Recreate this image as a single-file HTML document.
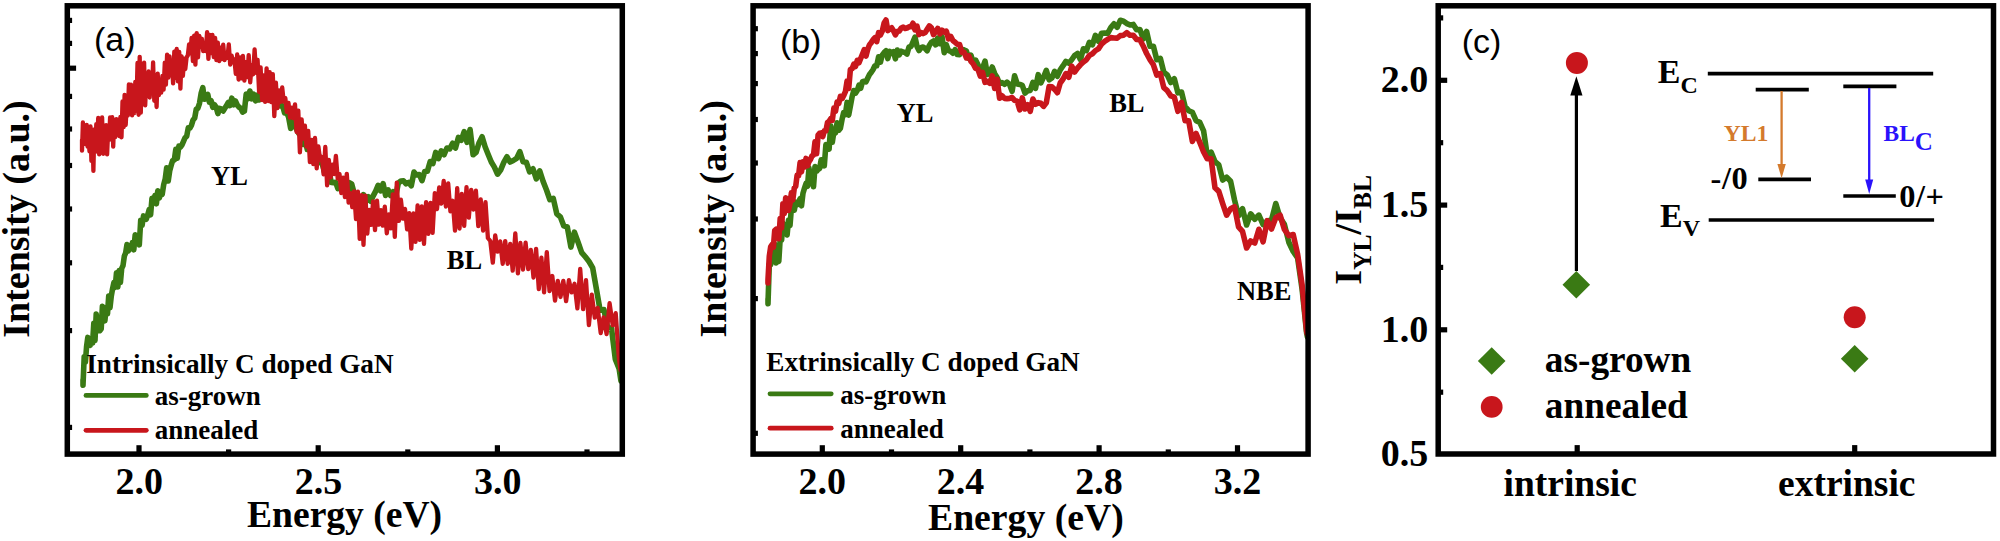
<!DOCTYPE html>
<html><head><meta charset="utf-8"><title>PL spectra</title>
<style>
html,body{margin:0;padding:0;background:#fff;}
body{width:2000px;height:541px;overflow:hidden;}
svg{display:block;}
text{font-family:"Liberation Serif","Times New Roman",serif;font-weight:bold;fill:#000;}
.sans{font-family:"Liberation Sans",Arial,sans-serif;font-weight:normal;}
.ax{font-size:38px;}
.tk{font-size:38px;text-anchor:middle;}
.lb{font-size:26.5px;}
.lg{font-size:27px;}
.fr{fill:none;stroke:#000;stroke-width:5.5;}
.t{stroke:#000;stroke-width:5.2;fill:none;}
.cv{fill:none;stroke-linejoin:round;stroke-linecap:round;}
</style></head><body>
<svg width="2000" height="541" viewBox="0 0 2000 541">
<rect width="2000" height="541" fill="#fff"/>
<defs>
<clipPath id="ca"><rect x="67.2" y="5.7" width="555.2" height="448.4"/></clipPath>
<clipPath id="cb"><rect x="753" y="5.7" width="555.2" height="448.4"/></clipPath>
</defs>

<g id="panel-a">
<g clip-path="url(#ca)">
<path class="cv" stroke="#3a7a14" stroke-width="5.6" d="M83.0 380.0 L83.0 385.2 L84.2 356.7 L85.4 362.1 L86.6 346.3 L87.8 337.4 L88.9 340.7 L90.2 345.3 L91.4 340.4 L92.6 343.0 L93.8 323.3 L95.0 340.4 L96.2 314.1 L97.5 327.1 L98.7 326.3 L99.9 330.7 L101.2 328.9 L102.4 306.3 L103.7 314.1 L104.9 320.8 L106.2 307.2 L107.5 313.8 L108.7 296.1 L110.0 307.8 L111.3 296.0 L112.6 288.5 L113.9 282.7 L115.2 287.3 L116.5 272.7 L117.8 287.0 L119.1 270.6 L120.4 282.4 L121.7 268.4 L123.0 265.6 L124.3 256.3 L125.7 252.7 L127.0 244.5 L128.4 250.9 L129.7 248.0 L131.1 248.1 L132.4 242.7 L133.8 249.8 L135.2 234.7 L136.5 241.4 L137.9 239.2 L139.3 244.9 L140.7 220.3 L142.1 225.3 L143.5 215.9 L144.9 217.1 L146.3 219.2 L147.7 214.9 L149.2 209.6 L150.6 214.8 L152.0 198.2 L153.5 200.9 L154.9 195.7 L156.4 203.8 L157.8 190.8 L159.3 198.1 L160.8 192.2 L162.2 194.3 L163.7 184.6 L165.2 179.0 L166.7 167.7 L168.2 181.0 L169.7 170.9 L171.2 165.2 L172.7 160.4 L174.3 160.1 L175.8 149.3 L177.3 158.2 L178.9 146.0 L180.4 147.1 L182.0 144.8 L183.5 141.3 L185.1 137.7 L186.7 136.2 L188.3 127.8 L189.9 128.2 L191.4 125.5 L193.1 119.9 L194.7 117.9 L196.3 109.1 L197.9 108.2 L199.5 103.3 L201.2 93.0 L202.8 87.7 L204.4 99.3 L206.1 96.2 L207.8 94.5 L209.4 102.2 L211.1 100.8 L212.8 107.3 L214.5 104.8 L216.2 107.4 L217.9 113.6 L219.6 108.4 L221.3 108.9 L223.1 111.0 L224.8 108.2 L226.5 105.6 L228.3 102.4 L230.0 105.6 L231.8 98.1 L233.6 104.8 L235.4 101.0 L237.2 105.0 L239.0 107.1 L240.8 108.3 L242.6 112.1 L244.4 111.1 L246.2 94.0 L248.1 98.7 L249.9 91.0 L251.8 98.9 L253.6 94.2 L255.5 100.8 L257.4 95.1 L259.3 99.9 L261.2 92.3 L263.1 88.5 L265.0 88.9 L266.9 91.1 L268.8 89.6 L270.8 93.1 L272.7 99.8 L274.7 98.8 L276.7 100.9 L278.6 100.3 L280.6 106.0 L282.6 105.7 L284.6 112.9 L286.6 112.3 L288.6 117.3 L290.7 128.5 L292.7 116.4 L294.8 125.6 L296.8 129.8 L298.9 133.6 L301.0 129.4 L303.1 144.5 L305.2 140.6 L307.3 149.5 L309.4 145.7 L311.5 147.6 L313.7 149.7 L315.8 162.1 L318.0 152.9 L320.2 162.3 L322.3 164.1 L324.5 172.3 L326.7 171.4 L329.0 170.6 L331.2 182.5 L333.4 182.6 L335.7 182.3 L337.9 188.7 L340.2 185.8 L342.5 187.9 L344.8 185.2 L347.1 195.4 L349.4 182.7 L351.7 183.9 L354.1 192.9 L356.4 198.9 L358.8 197.1 L361.2 205.4 L363.5 194.7 L365.9 201.7 L368.4 196.7 L370.8 201.2 L373.2 195.9 L375.7 191.1 L378.1 185.4 L380.6 190.9 L383.1 183.6 L385.6 195.4 L388.1 189.9 L390.6 195.5 L393.2 191.6 L395.7 196.5 L398.3 183.2 L400.9 181.0 L403.5 180.9 L406.1 183.8 L408.7 182.4 L411.3 185.7 L414.0 172.1 L416.6 175.0 L419.3 174.5 L422.0 180.7 L424.7 171.5 L427.4 171.3 L430.2 161.5 L432.9 163.5 L435.7 152.4 L438.5 158.6 L441.3 150.8 L444.1 154.7 L446.9 148.0 L449.7 148.9 L452.6 143.3 L455.5 148.1 L458.4 137.4 L461.3 140.2 L464.2 131.7 L467.1 142.4 L470.1 129.5 L473.1 154.8 L476.1 152.3 L479.1 142.7 L482.1 136.7 L485.1 146.8 L488.2 154.5 L491.3 162.0 L494.4 167.1 L497.5 174.2 L500.6 170.1 L503.8 162.4 L506.9 156.8 L510.1 162.1 L513.3 160.5 L516.6 158.4 L519.8 151.6 L523.1 161.8 L526.3 162.2 L529.6 171.8 L533.0 168.8 L536.3 178.8 L539.7 170.9 L543.1 181.4 L546.5 190.0 L549.9 199.7 L553.3 198.5 L556.8 213.8 L560.3 216.8 L563.8 225.9 L567.3 227.0 L570.9 247.1 L574.4 232.2 L578.0 242.0 L581.7 252.6 L585.3 256.8 L589.0 261.5 L592.7 267.9 L596.4 289.0 L600.1 310.2 L603.9 309.5 L607.6 327.2 L611.5 328.4 L615.3 359.1 L619.1 368.6 L621.0 381.0"/>
<path class="cv" stroke="#c8161c" stroke-width="4.3" d="M82.0 140.0 L82.0 150.7 L82.9 122.5 L83.9 141.0 L84.8 131.2 L85.7 144.1 L86.7 124.8 L87.6 146.7 L88.6 140.3 L89.5 151.3 L90.5 126.5 L91.4 160.9 L92.4 133.4 L93.4 170.9 L94.3 129.5 L95.3 151.8 L96.3 124.1 L97.2 141.6 L98.2 118.0 L99.2 154.4 L100.2 129.5 L101.2 149.2 L102.1 117.3 L103.1 153.8 L104.1 129.4 L105.1 145.1 L106.1 125.2 L107.1 154.4 L108.1 131.3 L109.1 139.9 L110.1 117.4 L111.2 133.3 L112.2 117.2 L113.2 146.6 L114.2 120.2 L115.2 137.0 L116.3 119.1 L117.3 127.7 L118.3 119.9 L119.4 136.1 L120.4 117.0 L121.5 137.3 L122.5 101.5 L123.6 127.2 L124.6 94.9 L125.7 125.0 L126.7 106.2 L127.8 115.5 L128.9 84.4 L129.9 109.9 L131.0 84.7 L132.1 115.4 L133.1 89.6 L134.2 113.2 L135.3 81.8 L136.4 108.0 L137.5 63.0 L138.6 114.8 L139.7 56.8 L140.8 112.7 L141.9 68.5 L143.0 102.0 L144.1 62.6 L145.2 105.4 L146.4 76.5 L147.5 95.3 L148.6 71.5 L149.7 97.5 L150.9 73.3 L152.0 92.1 L153.1 62.4 L154.3 100.8 L155.4 76.4 L156.6 107.0 L157.7 73.6 L158.9 95.1 L160.1 83.3 L161.2 92.7 L162.4 76.0 L163.6 89.7 L164.8 62.7 L165.9 84.7 L167.1 54.7 L168.3 77.6 L169.5 56.3 L170.7 70.3 L171.9 63.9 L173.1 83.4 L174.3 51.7 L175.5 77.8 L176.7 49.0 L177.9 81.3 L179.2 51.9 L180.4 88.6 L181.6 56.4 L182.9 75.8 L184.1 59.0 L185.3 69.0 L186.6 57.2 L187.8 55.5 L189.1 44.3 L190.4 53.4 L191.6 37.9 L192.9 61.1 L194.2 35.7 L195.4 64.6 L196.7 33.1 L198.0 57.4 L199.3 35.8 L200.6 45.6 L201.9 38.9 L203.2 51.1 L204.5 45.2 L205.8 51.0 L207.1 32.2 L208.4 58.9 L209.8 34.8 L211.1 53.1 L212.4 34.9 L213.8 57.1 L215.1 38.0 L216.4 60.2 L217.8 42.7 L219.2 61.1 L220.5 47.7 L221.9 59.0 L223.2 44.7 L224.6 60.1 L226.0 53.5 L227.4 57.7 L228.8 44.5 L230.2 64.6 L231.6 55.5 L233.0 62.3 L234.4 59.5 L235.8 73.9 L237.2 54.5 L238.6 79.5 L240.1 57.3 L241.5 78.3 L242.9 56.0 L244.4 80.6 L245.8 62.2 L247.3 77.2 L248.7 55.2 L250.2 82.4 L251.7 65.2 L253.1 74.3 L254.6 49.4 L256.1 72.8 L257.6 59.9 L259.1 92.0 L260.6 67.4 L262.1 100.1 L263.6 75.3 L265.1 101.8 L266.6 68.4 L268.2 101.0 L269.7 72.2 L271.2 102.2 L272.8 74.1 L274.3 116.2 L275.9 82.7 L277.4 108.1 L279.0 90.3 L280.6 101.8 L282.2 87.5 L283.7 101.5 L285.3 97.9 L286.9 111.9 L288.5 102.9 L290.1 117.7 L291.8 107.6 L293.4 118.2 L295.0 104.3 L296.6 132.0 L298.3 110.6 L299.9 152.4 L301.6 119.3 L303.2 138.5 L304.9 125.6 L306.5 146.6 L308.2 130.8 L309.9 162.2 L311.6 139.9 L313.3 164.1 L315.0 138.0 L316.7 168.3 L318.4 146.4 L320.1 160.1 L321.9 157.0 L323.6 174.4 L325.3 147.0 L327.1 185.3 L328.8 159.8 L330.6 177.4 L332.4 164.7 L334.1 174.1 L335.9 155.8 L337.7 178.5 L339.5 174.0 L341.3 193.0 L343.1 177.7 L344.9 197.0 L346.8 173.8 L348.6 202.5 L350.4 193.1 L352.3 207.2 L354.1 191.3 L356.0 219.0 L357.9 191.6 L359.7 238.9 L361.6 195.2 L363.5 244.9 L365.4 195.6 L367.3 233.6 L369.2 209.8 L371.1 224.9 L373.1 201.5 L375.0 230.2 L377.0 200.7 L378.9 224.7 L380.9 210.1 L382.8 225.7 L384.8 206.7 L386.8 233.3 L388.8 214.4 L390.8 228.3 L392.8 194.5 L394.8 236.8 L396.8 182.7 L398.9 220.9 L400.9 199.7 L403.0 218.7 L405.0 208.9 L407.1 229.3 L409.2 213.1 L411.3 248.7 L413.4 213.4 L415.5 241.9 L417.6 205.4 L419.7 239.9 L421.8 206.4 L424.0 243.8 L426.1 202.1 L428.3 233.9 L430.5 203.0 L432.6 232.8 L434.8 193.2 L437.0 209.1 L439.2 187.5 L441.4 203.6 L443.7 180.9 L445.9 206.5 L448.2 183.3 L450.4 211.3 L452.7 200.8 L455.0 230.7 L457.2 188.1 L459.5 228.5 L461.8 193.8 L464.2 225.8 L466.5 187.1 L468.8 217.7 L471.2 189.8 L473.5 209.5 L475.9 190.7 L478.3 226.0 L480.7 199.5 L483.1 230.6 L485.5 202.1 L487.9 238.0 L490.3 241.0 L492.8 262.7 L495.2 235.4 L497.7 251.7 L500.2 241.4 L502.7 263.8 L505.2 241.1 L507.7 263.8 L510.2 243.9 L512.7 270.7 L515.3 233.5 L517.9 273.3 L520.4 243.0 L523.0 269.6 L525.6 242.6 L528.2 269.1 L530.8 250.0 L533.5 277.5 L536.1 248.8 L538.8 289.1 L541.4 257.6 L544.1 292.4 L546.8 252.1 L549.5 291.2 L552.3 276.0 L555.0 300.6 L557.8 280.9 L560.5 297.0 L563.3 280.9 L566.1 301.1 L568.9 280.2 L571.7 292.4 L574.5 283.8 L577.4 308.4 L580.2 268.9 L583.1 309.2 L586.0 280.2 L588.9 325.1 L591.8 294.7 L594.8 317.7 L597.7 307.9 L600.7 333.1 L603.6 317.3 L606.6 334.1 L609.6 303.2 L612.7 325.1 L615.7 313.2 L618.8 357.1 L620.5 370.0"/>
</g>
<rect class="fr" x="67.3" y="5.8" width="555.0" height="448.3"/>
<line class="t" x1="68.9" y1="20.4" x2="72.1" y2="20.4"/>
<line class="t" x1="68.9" y1="43.4" x2="72.1" y2="43.4"/>
<line class="t" x1="68.9" y1="96.4" x2="72.1" y2="96.4"/>
<line class="t" x1="68.9" y1="129.0" x2="72.1" y2="129.0"/>
<line class="t" x1="68.9" y1="165.5" x2="72.1" y2="165.5"/>
<line class="t" x1="68.9" y1="209.0" x2="72.1" y2="209.0"/>
<line class="t" x1="68.9" y1="262.8" x2="72.1" y2="262.8"/>
<line class="t" x1="68.9" y1="330.6" x2="72.1" y2="330.6"/>
<line class="t" x1="68.9" y1="427.4" x2="72.1" y2="427.4"/>
<line class="t" x1="68.9" y1="68.2" x2="76.1" y2="68.2"/>
<line class="t" x1="228.6" y1="452.4" x2="228.6" y2="449.4"/>
<line class="t" x1="407.8" y1="452.4" x2="407.8" y2="449.4"/>
<line class="t" x1="587.0" y1="452.4" x2="587.0" y2="449.4"/>
<line class="t" x1="139.0" y1="452.4" x2="139.0" y2="445.2"/>
<line class="t" x1="318.2" y1="452.4" x2="318.2" y2="445.2"/>
<line class="t" x1="497.4" y1="452.4" x2="497.4" y2="445.2"/>
<text class="tk" x="139.3" y="493.8">2.0</text>
<text class="tk" x="318.5" y="493.8">2.5</text>
<text class="tk" x="497.7" y="493.8">3.0</text>
<text class="ax" x="247" y="527.2" style="font-size:37.6px">Energy (eV)</text>
<text class="ax" transform="translate(29.2,337.8) rotate(-90)">Intensity (a.u.)</text>
<text class="sans" x="94" y="51.2" style="font-size:34px">(a)</text>
<text class="lb" x="211" y="184.6">YL</text>
<text class="lb" x="446.8" y="269.4">BL</text>
<text class="lb" style="font-size:27.2px" x="86.2" y="372.5">Intrinsically C doped GaN</text>
<line x1="86" y1="395.4" x2="146.3" y2="395.4" stroke="#3a7a14" stroke-width="4.8" stroke-linecap="round"/>
<text class="lg" x="154.8" y="404.5">as-grown</text>
<line x1="86" y1="430.3" x2="146.3" y2="430.3" stroke="#c8161c" stroke-width="4.8" stroke-linecap="round"/>
<text class="lg" x="154.8" y="439.4">annealed</text>
</g>
<g id="panel-b">
<g clip-path="url(#cb)">
<path class="cv" stroke="#3a7a14" stroke-width="5.6" d="M768.0 299.0 L768.0 303.7 L769.3 264.4 L770.7 264.6 L772.0 250.9 L773.4 259.7 L774.7 244.4 L776.1 263.0 L777.4 249.3 L778.8 261.4 L780.2 238.3 L781.6 240.0 L782.9 223.1 L784.3 230.9 L785.7 230.2 L787.1 235.0 L788.5 220.1 L790.0 225.5 L791.4 208.2 L792.8 200.0 L794.3 210.2 L795.7 202.3 L797.1 204.9 L798.6 201.7 L800.1 198.8 L801.5 205.8 L803.0 193.2 L804.5 188.1 L806.0 183.5 L807.5 186.3 L809.0 167.9 L810.5 183.8 L812.0 174.5 L813.5 186.8 L815.0 166.5 L816.6 171.2 L818.1 169.2 L819.6 168.6 L821.2 159.7 L822.8 159.8 L824.3 165.9 L825.9 144.6 L827.5 147.4 L829.1 149.0 L830.7 125.7 L832.3 142.3 L833.9 131.6 L835.5 132.8 L837.1 122.8 L838.8 130.2 L840.4 128.2 L842.1 119.2 L843.7 112.5 L845.4 114.5 L847.1 102.4 L848.7 115.1 L850.4 105.9 L852.1 96.7 L853.8 90.5 L855.5 93.1 L857.3 90.4 L859.0 85.1 L860.7 88.3 L862.5 81.7 L864.2 81.2 L866.0 81.9 L867.8 78.0 L869.5 74.6 L871.3 72.3 L873.1 69.5 L874.9 65.7 L876.7 65.8 L878.6 56.8 L880.4 62.2 L882.2 55.1 L884.1 52.6 L886.0 50.8 L887.8 58.6 L889.7 51.4 L891.6 53.3 L893.5 51.7 L895.4 58.9 L897.3 50.1 L899.2 54.8 L901.2 51.2 L903.1 52.1 L905.1 52.5 L907.0 54.1 L909.0 47.0 L911.0 46.5 L913.0 41.9 L915.0 37.2 L917.0 46.4 L919.0 50.5 L921.1 47.7 L923.1 47.0 L925.2 48.6 L927.2 50.7 L929.3 45.5 L931.4 42.4 L933.5 41.0 L935.6 44.8 L937.7 38.1 L939.9 43.7 L942.0 36.6 L944.2 52.7 L946.3 44.6 L948.5 50.6 L950.7 51.3 L952.9 53.2 L955.1 49.6 L957.3 54.5 L959.6 54.7 L961.8 49.6 L964.1 49.9 L966.4 51.1 L968.7 58.5 L971.0 55.3 L973.3 62.5 L975.6 60.1 L977.9 64.5 L980.3 72.7 L982.6 68.2 L985.0 61.1 L987.4 74.4 L989.8 72.8 L992.2 67.0 L994.7 73.6 L997.1 77.5 L999.6 83.7 L1002.0 82.6 L1004.5 84.3 L1007.0 82.2 L1009.5 84.3 L1012.1 91.4 L1014.6 75.8 L1017.2 83.9 L1019.8 84.4 L1022.3 85.4 L1025.0 93.0 L1027.6 90.8 L1030.2 90.4 L1032.9 82.4 L1035.5 88.4 L1038.2 74.7 L1040.9 82.8 L1043.6 77.0 L1046.3 70.4 L1049.1 79.8 L1051.9 78.0 L1054.6 71.3 L1057.4 76.2 L1060.2 69.9 L1063.1 65.7 L1065.9 61.4 L1068.8 63.2 L1071.7 59.8 L1074.6 55.5 L1077.5 53.4 L1080.4 59.7 L1083.4 48.8 L1086.4 50.5 L1089.4 42.3 L1092.4 44.8 L1095.4 35.4 L1098.4 41.2 L1101.5 33.3 L1104.6 33.0 L1107.7 33.4 L1110.8 27.6 L1114.0 23.8 L1117.2 27.3 L1120.3 20.3 L1123.6 21.2 L1126.8 23.6 L1130.0 24.9 L1133.3 24.4 L1136.6 29.7 L1139.9 29.5 L1143.3 38.9 L1146.6 31.5 L1150.0 46.3 L1153.4 46.2 L1156.8 59.7 L1160.3 58.3 L1163.8 72.3 L1167.3 75.0 L1170.8 82.5 L1174.3 78.7 L1177.9 92.9 L1181.5 92.0 L1185.1 106.6 L1188.7 110.7 L1192.4 112.3 L1196.1 120.7 L1199.8 122.4 L1203.6 130.8 L1207.3 155.6 L1211.1 152.1 L1215.0 161.6 L1218.8 164.9 L1222.7 180.1 L1226.6 177.1 L1230.6 181.3 L1234.5 199.9 L1238.5 215.8 L1242.5 208.7 L1246.6 225.0 L1250.7 213.8 L1254.8 219.2 L1258.9 215.1 L1263.1 224.7 L1267.3 220.9 L1271.5 220.0 L1275.8 203.5 L1280.1 217.9 L1284.4 224.3 L1288.8 242.2 L1293.2 251.5 L1297.6 257.8 L1302.1 289.3 L1306.6 333.0 L1307.4 337.0"/>
<path class="cv" stroke="#c8161c" stroke-width="5.6" d="M768.0 283.0 L768.0 279.7 L769.3 256.2 L770.7 246.7 L772.0 244.7 L773.4 247.3 L774.7 230.6 L776.1 229.3 L777.4 232.4 L778.8 238.7 L780.2 218.5 L781.6 228.1 L782.9 203.7 L784.3 213.5 L785.7 197.7 L787.1 208.3 L788.5 210.4 L790.0 203.6 L791.4 192.9 L792.8 200.0 L794.3 187.8 L795.7 186.3 L797.1 175.3 L798.6 175.6 L800.1 162.5 L801.5 171.9 L803.0 161.7 L804.5 167.0 L806.0 158.4 L807.5 165.7 L809.0 161.6 L810.5 159.4 L812.0 155.9 L813.5 155.0 L815.0 141.8 L816.6 153.7 L818.1 135.0 L819.6 133.2 L821.2 132.9 L822.8 136.6 L824.3 130.9 L825.9 130.9 L827.5 122.4 L829.1 121.2 L830.7 118.8 L832.3 120.3 L833.9 108.0 L835.5 111.3 L837.1 102.1 L838.8 103.3 L840.4 96.3 L842.1 98.6 L843.7 95.5 L845.4 91.7 L847.1 81.0 L848.7 88.4 L850.4 69.3 L852.1 68.7 L853.8 64.1 L855.5 66.5 L857.3 60.3 L859.0 62.7 L860.7 58.5 L862.5 54.1 L864.2 49.7 L866.0 56.1 L867.8 49.0 L869.5 44.7 L871.3 42.6 L873.1 39.7 L874.9 37.8 L876.7 41.7 L878.6 32.7 L880.4 35.0 L882.2 31.3 L884.1 23.0 L886.0 20.0 L887.8 30.6 L889.7 29.0 L891.6 27.8 L893.5 30.8 L895.4 34.9 L897.3 31.5 L899.2 31.0 L901.2 28.2 L903.1 27.0 L905.1 28.4 L907.0 28.0 L909.0 26.8 L911.0 26.6 L913.0 23.3 L915.0 29.9 L917.0 26.1 L919.0 34.6 L921.1 32.5 L923.1 33.6 L925.2 32.5 L927.2 29.2 L929.3 25.9 L931.4 27.9 L933.5 34.6 L935.6 31.7 L937.7 28.4 L939.9 33.8 L942.0 30.1 L944.2 32.1 L946.3 31.1 L948.5 38.9 L950.7 36.4 L952.9 40.5 L955.1 42.2 L957.3 44.3 L959.6 44.6 L961.8 52.2 L964.1 52.3 L966.4 57.9 L968.7 55.9 L971.0 61.4 L973.3 64.0 L975.6 68.4 L977.9 69.1 L980.3 76.0 L982.6 72.4 L985.0 82.4 L987.4 81.4 L989.8 83.3 L992.2 75.8 L994.7 88.4 L997.1 79.3 L999.6 98.3 L1002.0 95.7 L1004.5 98.4 L1007.0 98.6 L1009.5 98.4 L1012.1 97.5 L1014.6 100.4 L1017.2 101.1 L1019.8 109.9 L1022.3 97.9 L1025.0 109.0 L1027.6 104.6 L1030.2 111.3 L1032.9 99.1 L1035.5 104.3 L1038.2 102.6 L1040.9 103.3 L1043.6 106.3 L1046.3 102.8 L1049.1 86.6 L1051.9 86.9 L1054.6 89.3 L1057.4 92.7 L1060.2 83.0 L1063.1 79.0 L1065.9 73.6 L1068.8 77.3 L1071.7 66.1 L1074.6 72.0 L1077.5 68.1 L1080.4 64.8 L1083.4 61.9 L1086.4 59.7 L1089.4 55.4 L1092.4 53.7 L1095.4 50.6 L1098.4 48.9 L1101.5 44.2 L1104.6 41.4 L1107.7 39.4 L1110.8 37.6 L1114.0 38.0 L1117.2 38.1 L1120.3 35.6 L1123.6 35.2 L1126.8 32.6 L1130.0 35.3 L1133.3 35.2 L1136.6 39.4 L1139.9 39.8 L1143.3 46.2 L1146.6 53.5 L1150.0 59.7 L1153.4 64.8 L1156.8 75.0 L1160.3 73.6 L1163.8 87.7 L1167.3 90.7 L1170.8 95.9 L1174.3 97.1 L1177.9 111.3 L1181.5 102.4 L1185.1 120.7 L1188.7 120.8 L1192.4 141.4 L1196.1 133.5 L1199.8 142.4 L1203.6 152.0 L1207.3 158.8 L1211.1 158.7 L1215.0 187.8 L1218.8 191.4 L1222.7 203.6 L1226.6 215.2 L1230.6 208.7 L1234.5 206.7 L1238.5 226.8 L1242.5 231.3 L1246.6 248.0 L1250.7 241.0 L1254.8 243.0 L1258.9 229.3 L1263.1 241.8 L1267.3 220.7 L1271.5 229.0 L1275.8 217.7 L1280.1 215.1 L1284.4 229.4 L1288.8 235.6 L1293.2 234.5 L1297.6 254.1 L1302.1 285.0 L1306.6 331.2 L1307.2 334.0"/>
</g>
<rect class="fr" x="753.1" y="5.8" width="555.0" height="448.3"/>
<line class="t" x1="754.7" y1="28.7" x2="757.9" y2="28.7"/>
<line class="t" x1="754.7" y1="53.6" x2="757.9" y2="53.6"/>
<line class="t" x1="754.7" y1="83.6" x2="757.9" y2="83.6"/>
<line class="t" x1="754.7" y1="119.5" x2="757.9" y2="119.5"/>
<line class="t" x1="754.7" y1="163.0" x2="757.9" y2="163.0"/>
<line class="t" x1="754.7" y1="219.0" x2="757.9" y2="219.0"/>
<line class="t" x1="754.7" y1="298.6" x2="757.9" y2="298.6"/>
<line class="t" x1="754.7" y1="433.3" x2="757.9" y2="433.3"/>
<line class="t" x1="891.5" y1="452.4" x2="891.5" y2="449.4"/>
<line class="t" x1="1029.9" y1="452.4" x2="1029.9" y2="449.4"/>
<line class="t" x1="1168.3" y1="452.4" x2="1168.3" y2="449.4"/>
<line class="t" x1="822.3" y1="452.4" x2="822.3" y2="445.2"/>
<line class="t" x1="960.7" y1="452.4" x2="960.7" y2="445.2"/>
<line class="t" x1="1099.1" y1="452.4" x2="1099.1" y2="445.2"/>
<line class="t" x1="1237.5" y1="452.4" x2="1237.5" y2="445.2"/>
<text class="tk" x="822.2" y="493.6">2.0</text>
<text class="tk" x="960.6" y="493.6">2.4</text>
<text class="tk" x="1099.0" y="493.6">2.8</text>
<text class="tk" x="1237.4" y="493.6">3.2</text>
<text class="ax" x="928" y="530.0" style="font-size:37.7px">Energy (eV)</text>
<text class="ax" transform="translate(726.0,337.6) rotate(-90)">Intensity (a.u.)</text>
<text class="sans" x="780" y="52.8" style="font-size:34px">(b)</text>
<text class="lb" x="896.7" y="122.4">YL</text>
<text class="lb" x="1109.2" y="112.4">BL</text>
<text class="lb" x="1236.9" y="300.4">NBE</text>
<text class="lb" style="font-size:27.2px" x="766.3" y="370.6">Extrinsically C doped GaN</text>
<line x1="770" y1="393.8" x2="831.2" y2="393.8" stroke="#3a7a14" stroke-width="4.8" stroke-linecap="round"/>
<text class="lg" x="840.3" y="403.5">as-grown</text>
<line x1="770" y1="428.2" x2="831.2" y2="428.2" stroke="#c8161c" stroke-width="4.8" stroke-linecap="round"/>
<text class="lg" x="840.3" y="437.9">annealed</text>
</g>
<g id="panel-c">
<rect class="fr" x="1438.2" y="5.8" width="555.3" height="448.2"/>
<line class="t" x1="1440.0" y1="17.9" x2="1443.2" y2="17.9"/>
<line class="t" x1="1440.0" y1="142.7" x2="1443.2" y2="142.7"/>
<line class="t" x1="1440.0" y1="267.4" x2="1443.2" y2="267.4"/>
<line class="t" x1="1440.0" y1="392.2" x2="1443.2" y2="392.2"/>
<line class="t" x1="1440.0" y1="80.3" x2="1447.2" y2="80.3"/>
<line class="t" x1="1440.0" y1="205.1" x2="1447.2" y2="205.1"/>
<line class="t" x1="1440.0" y1="329.8" x2="1447.2" y2="329.8"/>
<line class="t" x1="1577.2" y1="452.3" x2="1577.2" y2="445.1"/>
<line class="t" x1="1854.7" y1="452.3" x2="1854.7" y2="445.1"/>
<text class="tk" style="text-anchor:end" x="1428.3" y="92.0">2.0</text>
<text class="tk" style="text-anchor:end" x="1428.3" y="216.8">1.5</text>
<text class="tk" style="text-anchor:end" x="1428.3" y="341.5">1.0</text>
<text class="tk" style="text-anchor:end" x="1428.3" y="466.2">0.5</text>
<text class="ax" style="font-size:37.5px" x="1503.5" y="496">intrinsic</text>
<text class="ax" style="font-size:37.5px" x="1778" y="495.8">extrinsic</text>
<text class="ax" transform="translate(1361,284.7) rotate(-90)">I<tspan dy="10.3" style="font-size:25.5px">YL</tspan><tspan dy="-10.3">/I</tspan><tspan dy="10.3" style="font-size:25.5px">BL</tspan></text>
<text class="sans" x="1461.8" y="53.2" style="font-size:34px">(c)</text>
<line x1="1576.4" y1="271" x2="1576.4" y2="93" stroke="#000" stroke-width="3.2"/>
<path d="M1576.4 76.3 L1582.5 95.6 L1570.3 95.6 Z" fill="#000"/>
<path d="M1576.3 270.9 L1590.1 284.7 L1576.3 298.5 L1562.5 284.7 Z" fill="#3a7a14"/>
<circle cx="1576.9" cy="62.9" r="11" fill="#c8161c"/>
<circle cx="1854.7" cy="317.2" r="11" fill="#c8161c"/>
<path d="M1854.7 344.9 L1868.5 358.7 L1854.7 372.5 L1840.9 358.7 Z" fill="#3a7a14"/>
<path d="M1491.7 347.2 L1505.5 361.0 L1491.7 374.8 L1477.9 361.0 Z" fill="#3a7a14"/>
<circle cx="1491.7" cy="406.9" r="10.9" fill="#c8161c"/>
<text class="ax" style="font-size:37.3px" x="1544.8" y="371.8">as-grown</text>
<text class="ax" style="font-size:37.3px" x="1544.8" y="417.7">annealed</text>
<g stroke="#000" stroke-width="3.6" fill="none">
<line x1="1707.8" y1="73.6" x2="1933.2" y2="73.6"/>
<line x1="1708.7" y1="220" x2="1934.1" y2="220"/>
<line x1="1755.7" y1="89.6" x2="1808.8" y2="89.6"/>
<line x1="1843.3" y1="86.4" x2="1896.4" y2="86.4"/>
<line x1="1758.3" y1="179.4" x2="1811" y2="179.4"/>
<line x1="1843.3" y1="196" x2="1895.8" y2="196"/>
</g>
<line x1="1781.6" y1="91" x2="1781.6" y2="166" stroke="#d47a2c" stroke-width="2.3"/>
<path d="M1781.6 178.2 L1777.4 164 L1785.8 164 Z" fill="#d47a2c"/>
<line x1="1869.2" y1="88" x2="1869.2" y2="181" stroke="#2a12fb" stroke-width="2.3"/>
<path d="M1869.2 194 L1865.2 179.4 L1873.2 179.4 Z" fill="#2a12fb"/>
<text x="1657.7" y="83.3" style="font-size:34px">E<tspan dy="9.3" style="font-size:24px">C</tspan></text>
<text x="1660" y="226.8" style="font-size:34px">E<tspan dy="9.5" style="font-size:24px">V</tspan></text>
<text x="1723.8" y="140.8" style="font-size:23.6px;fill:#d47a2c">YL1</text>
<text x="1883.6" y="140.8" style="font-size:23.4px;fill:#2a12fb">BL<tspan dy="9.5" style="font-size:25px">C</tspan></text>
<text x="1710.6" y="189.4" style="font-size:32.4px;letter-spacing:0.6px">-/0</text>
<text x="1899.2" y="207" style="font-size:32.4px;letter-spacing:0.6px">0/+</text>
</g>
</svg></body></html>
